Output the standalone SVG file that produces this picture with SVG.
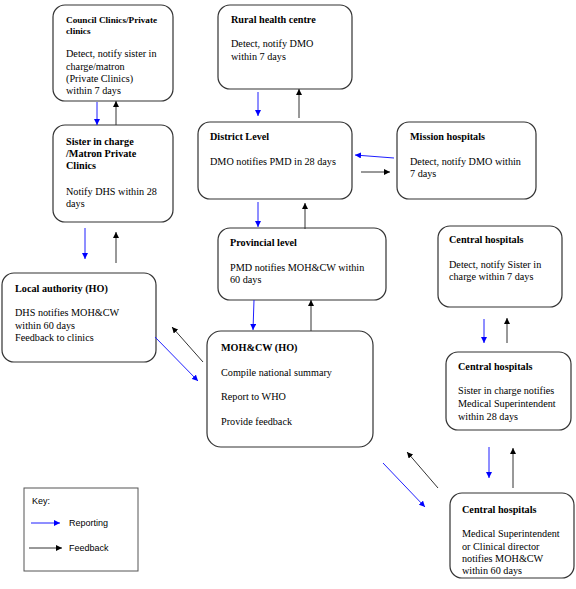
<svg xmlns="http://www.w3.org/2000/svg" width="576" height="589" viewBox="0 0 576 589">
<defs>
<style>
.box{fill:#fff;stroke:#333;stroke-width:1.2}
.t{font-family:"Liberation Serif","Times New Roman",serif;font-size:10.2px;fill:#000}
.b{font-weight:bold}
.s{font-size:9.2px}
.rep{stroke:#1f1fff;stroke-width:1;fill:none;marker-end:url(#mb)}
.fb{stroke:#333;stroke-width:1;fill:none;marker-end:url(#mk)}
.key{font-family:"Liberation Sans",Arial,sans-serif;font-size:9px;fill:#000}
</style>
<marker id="mb" markerUnits="userSpaceOnUse" markerWidth="7" markerHeight="6" refX="6" refY="3" orient="auto"><path d="M0,0 L6,3 L0,6 z" fill="#0000ff"/></marker>
<marker id="mk" markerUnits="userSpaceOnUse" markerWidth="7" markerHeight="6" refX="6" refY="3" orient="auto"><path d="M0,0 L6,3 L0,6 z" fill="#000"/></marker>
</defs>
<rect width="576" height="589" fill="#fff"/>

<g id="council">
<rect class="box" x="53" y="5" width="120" height="96" rx="12"/>
<text class="t b s" x="66" y="23">Council Clinics/Private</text>
<text class="t b s" x="66" y="34">clinics</text>
<text class="t" x="66" y="57">Detect, notify sister in</text>
<text class="t" x="66" y="69.5">charge/matron</text>
<text class="t" x="66" y="82">(Private Clinics)</text>
<text class="t" x="66" y="94">within 7 days</text>
</g>

<g id="sister">
<rect class="box" x="53" y="125" width="120" height="97" rx="12"/>
<text class="t b" x="66" y="145">Sister in charge</text>
<text class="t b" x="66" y="157">/Matron Private</text>
<text class="t b" x="66" y="169">Clinics</text>
<text class="t" x="66" y="195">Notify DHS within 28</text>
<text class="t" x="66" y="207">days</text>
</g>

<g id="rural">
<rect class="box" x="218" y="5" width="134" height="84" rx="12"/>
<text class="t b" x="231" y="23">Rural health centre</text>
<text class="t" x="231" y="47">Detect, notify DMO</text>
<text class="t" x="231" y="60">within 7 days</text>
</g>

<g id="district">
<rect class="box" x="198" y="122" width="154" height="77" rx="12"/>
<text class="t b" x="210" y="140">District Level</text>
<text class="t" x="210" y="165">DMO notifies PMD in 28 days</text>
</g>

<g id="mission">
<rect class="box" x="397" y="122" width="139" height="77" rx="12"/>
<text class="t b" x="410" y="140">Mission hospitals</text>
<text class="t" x="410" y="165">Detect, notify DMO within</text>
<text class="t" x="410" y="177">7 days</text>
</g>

<g id="central1">
<rect class="box" x="438" y="226" width="124" height="81" rx="12"/>
<text class="t b" x="449" y="243">Central hospitals</text>
<text class="t" x="449" y="268">Detect, notify Sister in</text>
<text class="t" x="449" y="280">charge within 7 days</text>
</g>

<g id="provincial">
<rect class="box" x="218" y="228" width="168" height="72" rx="12"/>
<text class="t b" x="230" y="246">Provincial level</text>
<text class="t" x="230" y="271">PMD notifies MOH&amp;CW within</text>
<text class="t" x="230" y="283">60 days</text>
</g>

<g id="local">
<rect class="box" x="2" y="273" width="154" height="89" rx="12"/>
<text class="t b" x="15" y="292">Local authority (HO)</text>
<text class="t" x="15" y="316">DHS notifies MOH&amp;CW</text>
<text class="t" x="15" y="329">within 60 days</text>
<text class="t" x="15" y="341">Feedback to clinics</text>
</g>

<g id="moh">
<rect class="box" x="207" y="331" width="166" height="116" rx="14"/>
<text class="t b" x="221" y="351">MOH&amp;CW (HO)</text>
<text class="t" x="221" y="376">Compile national summary</text>
<text class="t" x="221" y="400">Report to WHO</text>
<text class="t" x="221" y="425">Provide feedback</text>
</g>

<g id="central2">
<rect class="box" x="446" y="352" width="125" height="78" rx="12"/>
<text class="t b" x="458" y="370">Central hospitals</text>
<text class="t" x="458" y="394">Sister in charge notifies</text>
<text class="t" x="458" y="407">Medical Superintendent</text>
<text class="t" x="458" y="420">within 28 days</text>
</g>

<g id="central3">
<rect class="box" x="450" y="493" width="124" height="85" rx="12"/>
<text class="t b" x="462" y="513">Central hospitals</text>
<text class="t" x="462" y="537">Medical Superintendent</text>
<text class="t" x="462" y="550">or Clinical director</text>
<text class="t" x="462" y="562">notifies MOH&amp;CW</text>
<text class="t" x="462" y="574">within 60 days</text>
</g>

<g id="key">
<rect x="24" y="488" width="114" height="83" fill="#fff" stroke="#555" stroke-width="1"/>
<text class="key" x="32" y="504">Key:</text>
<line class="rep" x1="31" y1="523" x2="60" y2="523"/>
<text class="key" x="69" y="526">Reporting</text>
<line class="fb" x1="29" y1="548" x2="62" y2="548"/>
<text class="key" x="69" y="551">Feedback</text>
</g>

<g id="connectors">
<line class="rep" x1="97" y1="102" x2="97" y2="125"/>
<line class="fb" x1="116" y1="125" x2="116" y2="101"/>
<line class="rep" x1="85" y1="228" x2="85" y2="259"/>
<line class="fb" x1="116" y1="263" x2="116" y2="232"/>
<line class="rep" x1="258" y1="92" x2="258" y2="116"/>
<line class="fb" x1="299" y1="118" x2="299" y2="89"/>
<line class="rep" x1="394" y1="158" x2="355" y2="155"/>
<line class="fb" x1="361" y1="172" x2="390" y2="172"/>
<line class="rep" x1="258" y1="202" x2="258" y2="227"/>
<line class="fb" x1="305" y1="229" x2="305" y2="203"/>
<line class="rep" x1="254" y1="300" x2="253" y2="330"/>
<line class="fb" x1="311" y1="331" x2="311" y2="300"/>
<line class="rep" x1="155" y1="337" x2="198" y2="381"/>
<line class="fb" x1="203" y1="362" x2="172" y2="327"/>
<line class="rep" x1="484" y1="319" x2="484" y2="343"/>
<line class="fb" x1="507" y1="343" x2="507" y2="318"/>
<line class="rep" x1="489" y1="447" x2="489" y2="478"/>
<line class="fb" x1="513" y1="488" x2="513" y2="448"/>
<line class="rep" x1="383" y1="463" x2="425" y2="507"/>
<line class="fb" x1="438" y1="488" x2="407" y2="452"/>
</g>
</svg>
